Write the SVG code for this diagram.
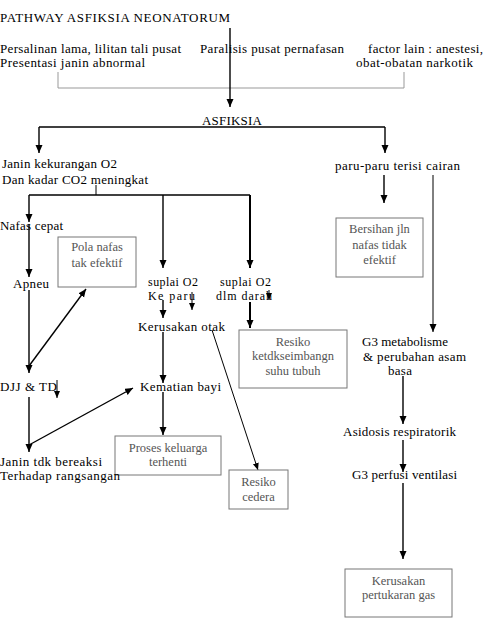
<svg xmlns="http://www.w3.org/2000/svg" width="499" height="640" viewBox="0 0 499 640">
<defs>
<marker id="ah" markerUnits="userSpaceOnUse" markerWidth="9" markerHeight="8" refX="8" refY="3.5" orient="auto"><path d="M0,0 L8,3.5 L0,7 z" fill="#000"/></marker>
<marker id="ahs" markerUnits="userSpaceOnUse" markerWidth="8" markerHeight="7" refX="7" refY="3" orient="auto"><path d="M0,0 L7,3 L0,6 z" fill="#000"/></marker>
<style>
.t{font-family:"Liberation Serif","Times New Roman",serif;font-size:13px;fill:#000}
.s{font-size:12px}
.b{font-family:"Liberation Serif","Times New Roman",serif;font-size:12.5px;fill:#555;text-anchor:middle}
.box{fill:#fff;stroke:#777;stroke-width:1}
.c{fill:none;stroke:#000;stroke-width:1.4}
.th{fill:none;stroke:#000;stroke-width:1}
.k{fill:none;stroke:#000;stroke-width:2}
.g{fill:none;stroke:#999;stroke-width:1}
</style>
</defs>
<rect width="499" height="640" fill="#fff"/>
<g id="connectors">
<path class="g" d="M58,72 V88 H404 V72"/>
<path class="c" d="M230,28 V107" marker-end="url(#ah)"/>
<path class="c" d="M39,127 H385"/>
<path class="c" d="M39,127 V153" marker-end="url(#ah)"/>
<path class="c" d="M385,127 V153" marker-end="url(#ah)"/>
<path class="th" d="M96,185 V195"/>
<path class="c" d="M29,195 H250"/>
<path class="c" d="M29,195 V222" marker-end="url(#ah)"/>
<path class="c" d="M163,195 V268" marker-end="url(#ah)"/>
<path class="k" d="M250,195 V268" marker-end="url(#ah)"/>
<path class="c" d="M29,224 V277" marker-end="url(#ah)"/>
<path class="c" d="M29,290 V373" marker-end="url(#ah)"/>
<path class="c" d="M29,366 L86,289" marker-end="url(#ah)"/>
<path class="th" d="M57,380 V398" marker-end="url(#ahs)"/>
<path class="c" d="M29,397 V452" marker-end="url(#ah)"/>
<path class="c" d="M29,445 L133,388" marker-end="url(#ah)"/>
<path class="th" d="M192,292 V310" marker-end="url(#ahs)"/>
<path class="c" d="M163,300 V318" marker-end="url(#ah)"/>
<path class="th" d="M269,290 V300" marker-end="url(#ahs)"/>
<path class="k" d="M250,302 V328" marker-end="url(#ah)"/>
<path class="c" d="M163,332 V383" marker-end="url(#ah)"/>
<path class="c" d="M163,392 V435" marker-end="url(#ah)"/>
<path class="th" d="M212,330 L258,470" marker-end="url(#ahs)"/>
<path class="c" d="M384,175 V203" marker-end="url(#ah)"/>
<path class="th" d="M433,175 V332" marker-end="url(#ah)"/>
<path class="c" d="M403,376 V424" marker-end="url(#ah)"/>
<path class="c" d="M403,440 V472" marker-end="url(#ah)"/>
<path class="c" d="M403,483 V559" marker-end="url(#ah)"/>
</g>
<g id="title"><text class="t" x="0" y="22" textLength="230">PATHWAY ASFIKSIA NEONATORUM</text></g>
<g id="cause1"><text class="t" x="0" y="53" textLength="181">Persalinan lama, lilitan tali pusat</text><text class="t" x="0" y="67" textLength="145">Presentasi janin abnormal</text></g>
<g id="cause2"><text class="t" x="200" y="53" textLength="144">Paralisis pusat pernafasan</text></g>
<g id="cause3"><text class="t" x="368" y="53" textLength="115">factor lain : anestesi,</text><text class="t" x="356" y="67" textLength="117">obat-obatan narkotik</text></g>
<g id="asfiksia"><text class="t" x="202" y="125" textLength="60">ASFIKSIA</text></g>
<g id="janin"><text class="t" x="2" y="168" textLength="115">Janin kekurangan O2</text><text class="t" x="2" y="184" textLength="146">Dan kadar CO2 meningkat</text></g>
<g id="paru"><text class="t" x="335" y="170" textLength="125">paru-paru terisi cairan</text></g>
<g id="bersihan"><rect class="box" x="336" y="218" width="87" height="59"/><text class="b" x="379.5" y="233">Bersihan jln</text><text class="b" x="379.5" y="249">nafas tidak</text><text class="b" x="379.5" y="264">efektif</text></g>
<g id="nafas-cepat"><text class="t" x="0" y="230" textLength="63">Nafas cepat</text></g>
<g id="pola-nafas"><rect class="box" x="58" y="237" width="78" height="50"/><text class="b" x="97" y="251">Pola nafas</text><text class="b" x="97" y="267">tak efektif</text></g>
<g id="apneu"><text class="t" x="13" y="288" textLength="36">Apneu</text></g>
<g id="suplai-paru"><text class="t s" x="148" y="286" textLength="50">suplai O2</text><text class="t s" x="148" y="300" textLength="47">Ke paru</text></g>
<g id="suplai-darah"><text class="t s" x="220" y="286" textLength="51">suplai O2</text><text class="t s" x="216" y="300" textLength="56">dlm darah</text></g>
<g id="kerusakan-otak"><text class="t" x="138" y="331" textLength="87">Kerusakan otak</text></g>
<g id="resiko-suhu"><rect class="box" x="239" y="330" width="108" height="58"/><text class="b" x="293" y="346">Resiko</text><text class="b" x="293" y="360">ketdkseimbangn</text><text class="b" x="293" y="375">suhu tubuh</text></g>
<g id="djj"><text class="t" x="0" y="391" textLength="57">DJJ &amp; TD</text></g>
<g id="kematian"><text class="t" x="140" y="391" textLength="81">Kematian bayi</text></g>
<g id="proses"><rect class="box" x="115" y="436" width="106" height="39"/><text class="b" x="168" y="452">Proses keluarga</text><text class="b" x="168" y="466">terhenti</text></g>
<g id="janin-tdk"><text class="t" x="0" y="466" textLength="102">Janin tdk bereaksi</text><text class="t" x="0" y="480" textLength="120">Terhadap rangsangan</text></g>
<g id="resiko-cedera"><rect class="box" x="229" y="470" width="59" height="39"/><text class="b" x="258.5" y="486">Resiko</text><text class="b" x="258.5" y="501">cedera</text></g>
<g id="g3-metabolisme"><text class="t" x="362" y="346" textLength="86">G3 metabolisme</text><text class="t" x="363" y="361" textLength="103">&amp; perubahan asam</text><text class="t" x="388" y="375" textLength="24">basa</text></g>
<g id="asidosis"><text class="t" x="343" y="436" textLength="113">Asidosis respiratorik</text></g>
<g id="g3-perfusi"><text class="t" x="352" y="479" textLength="105">G3 perfusi ventilasi</text></g>
<g id="kerusakan-gas"><rect class="box" x="345" y="569" width="107" height="48"/><text class="b" x="398.5" y="585">Kerusakan</text><text class="b" x="398.5" y="599">pertukaran gas</text></g>
</svg>
